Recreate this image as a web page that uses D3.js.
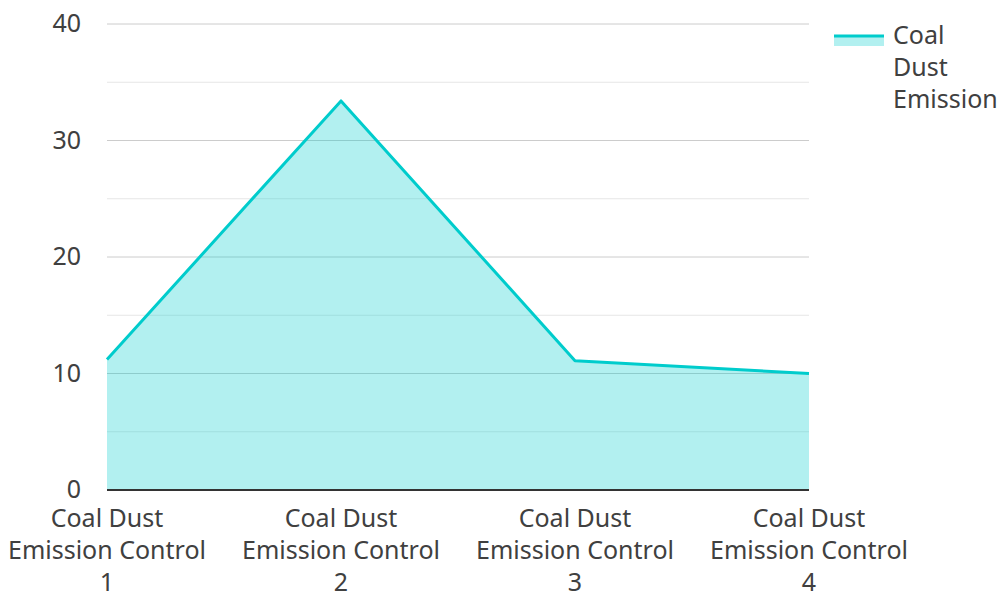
<!DOCTYPE html>
<html>
<head>
<meta charset="utf-8">
<script src="https://cdn.jsdelivr.net/npm/d3@7"></script>
<style>
  body { margin: 0; background: #fff; }
  text { font-family: "Noto Sans", "Open Sans", sans-serif; fill: #404040; }
</style>
</head>
<body>
<svg id="chart" width="999" height="595"></svg>
<script>
// Chart data
const categories = [
  ['Coal Dust', 'Emission Control', '1'],
  ['Coal Dust', 'Emission Control', '2'],
  ['Coal Dust', 'Emission Control', '3'],
  ['Coal Dust', 'Emission Control', '4']
];
const values = [11.2, 33.4, 11.1, 10.0];
const yTicks = [0, 10, 20, 30, 40];
const yMinorTicks = [5, 15, 25, 35];
const seriesName = ['Coal', 'Dust', 'Emission'];

const svg = d3.select('#chart');
const margin = { left: 107, right: 190, top: 24, bottom: 105 };
const width = 999, height = 595;
const fontSize = 25;

const x = d3.scalePoint()
  .domain(d3.range(categories.length))
  .range([margin.left, width - margin.right]);

const y = d3.scaleLinear()
  .domain([0, 40])
  .range([height - margin.bottom, margin.top]);

// Grid lines
svg.append('g').selectAll('line.minor')
  .data(yMinorTicks)
  .join('line')
  .attr('x1', margin.left).attr('x2', width - margin.right)
  .attr('y1', d => y(d)).attr('y2', d => y(d))
  .attr('stroke', '#e6e6e6').attr('stroke-width', 1);

svg.append('g').selectAll('line.major')
  .data(yTicks.filter(d => d > 0))
  .join('line')
  .attr('x1', margin.left).attr('x2', width - margin.right)
  .attr('y1', d => y(d)).attr('y2', d => y(d))
  .attr('stroke', '#cccccc').attr('stroke-width', 1);

// Area + line
const area = d3.area()
  .x((d, i) => x(i))
  .y0(y(0))
  .y1(d => y(d));

const line = d3.line()
  .x((d, i) => x(i))
  .y(d => y(d));

svg.append('path')
  .datum(values)
  .attr('d', area)
  .attr('fill', '#00cccc')
  .attr('fill-opacity', 0.3);

svg.append('path')
  .datum(values)
  .attr('d', line)
  .attr('fill', 'none')
  .attr('stroke', '#00cccc')
  .attr('stroke-width', 3)
  .attr('stroke-linejoin', 'round');

// Baseline
svg.append('line')
  .attr('x1', margin.left).attr('x2', width - margin.right)
  .attr('y1', y(0)).attr('y2', y(0))
  .attr('stroke', '#333').attr('stroke-width', 2);

// Y labels
svg.append('g').selectAll('text')
  .data(yTicks)
  .join('text')
  .attr('x', 81)
  .attr('y', d => y(d) + 8)
  .attr('text-anchor', 'end')
  .attr('font-size', fontSize)
  .text(d => d);

// X labels
const xLabels = svg.append('g').selectAll('text')
  .data(categories)
  .join('text')
  .attr('text-anchor', 'middle')
  .attr('font-size', fontSize)
  .attr('x', (d, i) => x(i))
  .attr('y', 527);

xLabels.selectAll('tspan')
  .data(d => d)
  .join('tspan')
  .attr('x', function() { return d3.select(this.parentNode).attr('x'); })
  .attr('dy', (d, i) => i === 0 ? 0 : 32)
  .text(d => d);

// Legend
const legend = svg.append('g');
legend.append('rect')
  .attr('x', 834).attr('y', 35)
  .attr('width', 50).attr('height', 11)
  .attr('fill', '#00cccc').attr('fill-opacity', 0.3);
legend.append('line')
  .attr('x1', 834).attr('x2', 884)
  .attr('y1', 36).attr('y2', 36)
  .attr('stroke', '#00cccc').attr('stroke-width', 3);

legend.append('text')
  .attr('x', 893).attr('y', 44)
  .attr('font-size', fontSize)
  .selectAll('tspan')
  .data(seriesName)
  .join('tspan')
  .attr('x', 893)
  .attr('dy', (d, i) => i === 0 ? 0 : 32)
  .text(d => d);
</script>
</body>
</html>
